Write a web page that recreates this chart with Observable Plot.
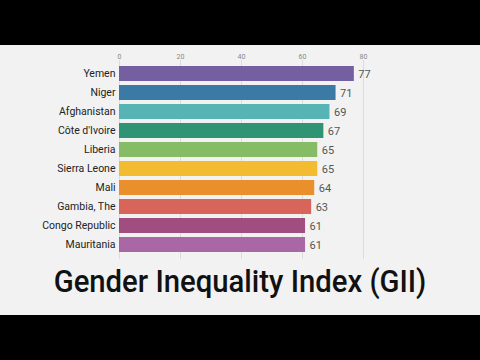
<!DOCTYPE html>
<html>
<head>
<meta charset="utf-8">
<script src="https://cdn.jsdelivr.net/npm/d3@7"></script>
<script src="https://cdn.jsdelivr.net/npm/@observablehq/plot@0.6"></script>
<style>
  html, body { margin: 0; padding: 0; }
  body { width: 480px; height: 360px; background: #000; overflow: hidden; position: relative; }
  #panel { position: absolute; top: 45px; left: 0; width: 480px; height: 270px; background: #f2f2f2; }
  #chart { position: absolute; top: 0; left: 0; }
  #title { position: absolute; left: 0; width: 480px; top: 220px; text-align: center;
           font-family: Roboto, sans-serif; font-weight: 500; font-size: 32px; line-height: 32px; color: #111;
           transform: scaleX(0.915); transform-origin: 240px 0; }
</style>
</head>
<body>
<div id="panel">
  <div id="chart"></div>
  <div id="title">Gender Inequality Index (GII)</div>
</div>
<script>
const countries = ["Yemen", "Niger", "Afghanistan", "Côte d'Ivoire", "Liberia", "Sierra Leone", "Mali", "Gambia, The", "Congo Republic", "Mauritania"];
const values = [77, 71, 69, 67, 65, 65, 64, 63, 61, 61];
const barColors = ["#7460a0", "#3a7aa5", "#56b4b4", "#2e9474", "#86bc66", "#f2bb30", "#e98f2c", "#d8655a", "#a04d80", "#a967a6"];
const xTicks = [0, 20, 40, 60, 80];

const data = countries.map((c, i) => ({country: c, value: values[i], color: barColors[i]}));

const chart = Plot.plot({
  width: 480,
  height: 216,
  marginTop: 15,
  marginBottom: 2,
  marginLeft: 119,
  marginRight: 117,
  style: {background: "transparent", fontFamily: "Roboto, sans-serif"},
  x: {domain: [0, 80], ticks: xTicks},
  y: {domain: countries, padding: 0.2},
  marks: [
    Plot.ruleX(xTicks, {stroke: "#dcdcdc", strokeWidth: 1}),
    Plot.axisX({anchor: "top", ticks: xTicks, tickSize: 0, tickPadding: 2, fontSize: 7, fill: "#888", label: null}),
    Plot.axisY({tickSize: 0, tickPadding: 4, fontSize: 10.5, fill: "#222", label: null}),
    Plot.barX(data, {x: "value", y: "country", fill: "color"}),
    Plot.text(data, {x: "value", y: "country", text: d => String(d.value), textAnchor: "start", dx: 4, fontSize: 11, fill: "#555"})
  ]
});
document.getElementById("chart").appendChild(chart);
</script>
</body>
</html>
